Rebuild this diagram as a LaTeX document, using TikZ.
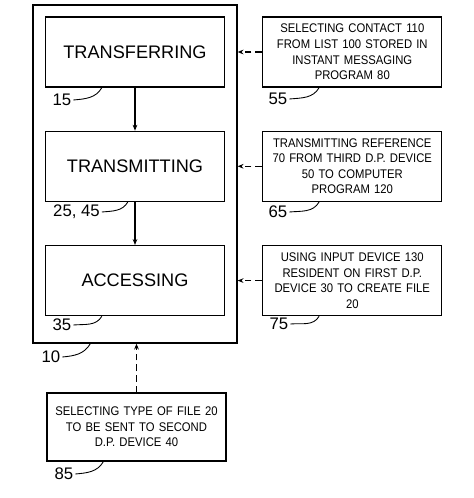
\documentclass[tikz,border=0pt]{standalone}
\usepackage{fontspec}
\setmainfont{Liberation Sans}
\newfontfamily\narrowfont[FakeStretch=0.9]{Liberation Sans}
\usetikzlibrary{arrows.meta}
\usetikzlibrary{positioning}
\tikzset{stepbox/.style = {draw, line width=1.1pt, minimum width=5.37cm, minimum height=2.1cm, font=\fontsize{15.5}{18}\selectfont}}
\tikzset{notebox/.style = {draw, line width=1.1pt, minimum width=5.37cm, minimum height=2.1cm, text width=5.1cm, align=center, font=\narrowfont\fontsize{10.7}{13.3}\selectfont}}
\tikzset{refnum/.style = {inner sep=1.5pt, font=\fontsize{14.3}{16}\selectfont}}
\tikzset{leader/.style = {line width=0.75pt}}
\tikzset{flow/.style = {line width=1.1pt, -{Stealth[length=5pt,width=4pt]}}}
\tikzset{feed/.style = {flow, dash pattern=on 0.2cm off 0.12cm}}

\begin{document}
\begin{tikzpicture}
        \useasboundingbox (0,0) rectangle (14.22,14.94);
        % method 10 with its three steps
        \node [draw, line width=1.1pt, minimum width=6.12cm, minimum height=10.14cm] (method) at (4.05,9.72) {};
        \node [stepbox] (transfer) at (4.05,13.38) {TRANSFERRING};
        \node [stepbox, below=1.29cm of transfer] (transmit) {TRANSMITTING};
        \node [stepbox, below=1.29cm of transmit] (access) {ACCESSING};
        \draw [flow] (transfer) -- (transmit);
        \draw [flow] (transmit) -- (access);
        % optional steps
        \node [notebox, right=1.11cm of transfer] (select) {SELECTING CONTACT 110\\FROM LIST 100 STORED IN\\INSTANT MESSAGING\\PROGRAM 80};
        \node [notebox, right=1.11cm of transmit] (sendref) {TRANSMITTING REFERENCE\\70 FROM THIRD D.P. DEVICE\\50 TO COMPUTER\\PROGRAM 120};
        \node [notebox, right=1.11cm of access] (create) {USING INPUT DEVICE 130\\RESIDENT ON FIRST D.P.\\DEVICE 30 TO CREATE FILE\\20};
        \node [notebox, minimum height=2.04cm] (filetype) at (4.095,2.13) {SELECTING TYPE OF FILE 20\\TO BE SENT TO SECOND\\D.P. DEVICE 40};
        \draw [feed] (select.west) -- (select.west -| method.east);
        \draw [feed] (sendref.west) -- (sendref.west -| method.east);
        \draw [feed] (create.west) -- (create.west -| method.east);
        \draw [feed] (filetype.north) -- (filetype.north |- method.south);
        % reference numerals
        \node [refnum] (n15) at (1.86,11.94) {15};
        \node [refnum] (n25) at (2.295,8.58) {25, 45};
        \node [refnum] (n35) at (1.86,5.19) {35};
        \node [refnum] (n10) at (1.53,4.23) {10};
        \node [refnum] (n85) at (1.92,0.72) {85};
        \node [refnum] (n55) at (8.34,11.97) {55};
        \node [refnum] (n65) at (8.34,8.58) {65};
        \node [refnum] (n75) at (8.37,5.22) {75};
        \draw [leader] (n15.east) to [out=5,in=-120] ([xshift=1.71cm]transfer.south west);
        \draw [leader] (n25.east) to [out=5,in=-120] ([xshift=2.49cm]transmit.south west);
        \draw [leader] (n35.east) to [out=5,in=-120] ([xshift=1.71cm]access.south west);
        \draw [leader] (n10.east) to [out=5,in=-120] ([xshift=1.74cm]method.south west);
        \draw [leader] (n85.east) to [out=5,in=-120] ([xshift=1.71cm]filetype.south west);
        \draw [leader] (n55.east) to [out=5,in=-120] ([xshift=1.71cm]select.south west);
        \draw [leader] (n65.east) to [out=5,in=-120] ([xshift=1.71cm]sendref.south west);
        \draw [leader] (n75.east) to [out=5,in=-120] ([xshift=1.71cm]create.south west);
    \end{tikzpicture}
\end{document}
